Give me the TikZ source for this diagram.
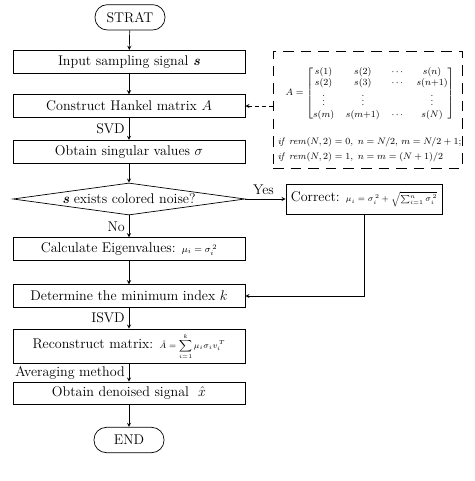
\documentclass[tikz,border=0pt]{standalone}
\usepackage{amsmath}
\usepackage{amsfonts}
\usepackage{amssymb}
\usepackage{tikz}
\usetikzlibrary{positioning, calc, shapes, arrows, fit}

\begin{document}
\begin{tikzpicture}[
		process/.style = {draw, rectangle, minimum width = 6.96cm, minimum height = 0.68cm, inner sep = 0pt, font = \large},
		terminal/.style = {draw, rounded corners = 0.37cm, minimum width = 2.1cm, minimum height = 0.76cm, inner sep = 0pt, font = \large},
		decision/.style = {draw, diamond, aspect = 7.25, minimum width = 6.96cm, minimum height = 0.96cm, inner sep = 0pt, font = \large},
		flow/.style = {-stealth, line width = 0.6pt},
		every node/.style = {line width = 0.6pt}]
	\useasboundingbox (0,0) rectangle (14.22,-14.43);

	% main column
	\node[terminal] (start) at (3.9,-0.52) {STRAT};
	\node[process] (input) at (3.87,-1.85) {Input sampling signal \textbf{\textit{s}}};
	\node[process] (hankel) at (3.87,-3.18) {Construct Hankel matrix $A$};
	\node[process] (singular) at (3.87,-4.55) {Obtain singular values $\sigma$};
	\node[decision] (noise) at (3.87,-5.97) {\textbf{\textit{s}} exists colored noise?};
	\node[process] (eigen) at (3.87,-7.47) {Calculate Eigenvalues: {\footnotesize$\mu_i=\sigma_i^{\,2}$}};
	\node[process] (minindex) at (3.87,-8.88) {Determine the minimum index $k$};
	\node[process, minimum height = 1.02cm] (reconstruct) at (3.87,-10.38) {Reconstruct matrix: {\scriptsize$\hat{A}=\displaystyle\sum_{i=1}^{k}\mu_i\sigma_i v_i^{\,T}$}};
	\node[process] (denoised) at (3.87,-11.8) {Obtain denoised signal \ $\hat{x}$};
	\node[terminal] (end) at (3.87,-13.2) {END};

	% right side
	\node[draw, rectangle, minimum width = 4.68cm, minimum height = 0.9cm, inner sep = 0pt, font = \large] (correct) at (10.92,-5.97) {Correct: {\scriptsize$\mu_i=\sigma_i^{\,2}+\sqrt{\textstyle\sum_{i=1}^{n}\sigma_i^{\,2}}$}};
	\node[draw, dashed, dash pattern = on 9pt off 6pt, rectangle, minimum width = 5.67cm, minimum height = 3.51cm] (hankelnote) at (11.03,-3.29) {};
	\node (hankelmat) at (11.1,-2.8) {\footnotesize$A=\begin{bmatrix}
			s(1) & s(2) & \cdots & s(n) \\
			s(2) & s(3) & \cdots & s(n{+}1) \\
			\vdots & \vdots & & \vdots \\
			s(m) & s(m{+}1) & \cdots & s(N)
		\end{bmatrix}$};
	\node[font = \fontsize{7.6}{9}\selectfont, anchor = west, inner sep = 1pt] (evencase) at ([xshift = 3pt]hankelnote.west |- 0,-4.26) {$\mathit{if}\ \mathit{rem}(N,2)=0,\ n=N/2,\, m=N/2+1;$};
	\node[font = \fontsize{7.6}{9}\selectfont, anchor = west, inner sep = 1pt] (oddcase) at ([xshift = 3pt]hankelnote.west |- 0,-4.72) {$\mathit{if}\ \mathit{rem}(N,2)=1,\ n=m=(N+1)/2$};

	% connectors
	\draw[flow] (start) -- (input);
	\draw[flow] (input) -- (hankel);
	\draw[flow] (hankel) -- node[left, font = \large] {SVD} (singular);
	\draw[flow] (singular) -- (noise);
	\draw[flow] (noise) -- node[left, font = \large] {No} (eigen);
	\draw[flow] (eigen) -- (minindex);
	\draw[flow] (minindex) -- node[left, font = \large] {ISVD} (reconstruct);
	\draw[flow] (reconstruct) -- node[left, font = \large] {Averaging method} (denoised);
	\draw[flow] (denoised) -- (end);
	\draw[flow] (noise.east) -- node[above, font = \large, pos = 0.45] {Yes} (correct.west);
	\draw[flow] (correct.south) |- (minindex.east);
	\draw[flow, dashed] (hankelnote.west |- hankel.east) -- (hankel.east);
\end{tikzpicture}
\end{document}
